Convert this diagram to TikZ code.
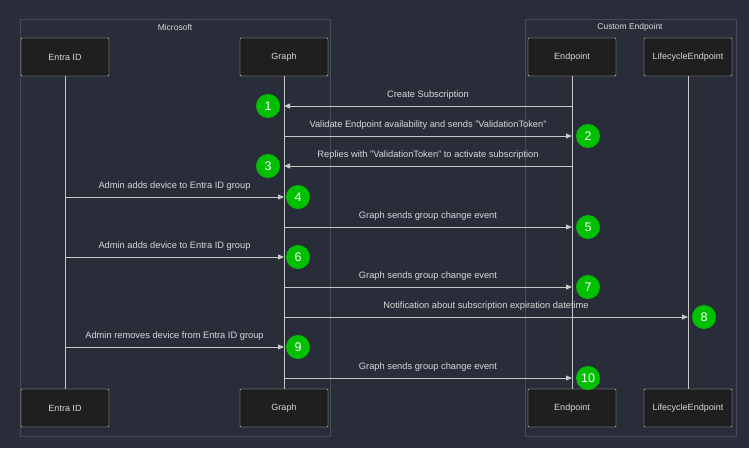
\documentclass[tikz,border=0pt]{standalone}
\usepackage{fontspec}
\setmainfont{Liberation Sans}
\usetikzlibrary{arrows.meta}
\definecolor{bgc}{HTML}{292D3A}
\definecolor{boxc}{HTML}{1F1F1F}
\definecolor{linec}{HTML}{C8C8C8}
\definecolor{txtc}{HTML}{D8D8D8}
\definecolor{grpc}{HTML}{454A55}
\definecolor{badgec}{HTML}{00C000}
\tikzset{
  actor/.style={draw=linec!70, fill=boxc, rounded corners=1pt, minimum width=88pt, minimum height=38pt, text=txtc, font=\fontsize{9}{11}\selectfont},
  group/.style={draw=grpc, line width=0.6pt},
  grplabel/.style={text=txtc, font=\fontsize{8.5}{10}\selectfont},
  life/.style={linec, line width=1pt},
  msg/.style={linec, line width=1pt, -{Triangle[length=6pt,width=5pt]}},
  msglabel/.style={text=txtc, font=\fontsize{9.3}{11}\selectfont},
  badge/.style={circle, fill=badgec, minimum size=24pt, inner sep=0pt, text=white, font=\fontsize{12.5}{13}\selectfont}
}
\begin{document}
\begin{tikzpicture}[x=1pt, y=-1pt]
      \fill[bgc] (0,0) rectangle (749,448);
      \useasboundingbox (0,0) rectangle (749,448);
      % groups
      \draw[group] (20,19) rectangle (330,436);
      \draw[group] (525,19) rectangle (736,436);
      \node[grplabel] at (175,27) {Microsoft};
      \node[grplabel] at (630,27) {Custom Endpoint};
      % actors
      \node[actor] (entraT) at (65,57) {Entra ID};
      \node[actor] (graphT) at (284,57) {Graph};
      \node[actor] (epT) at (572,57) {Endpoint};
      \node[actor] (lcT) at (688,57) {LifecycleEndpoint};
      \node[actor] (entraB) at (65,408) {Entra ID};
      \node[actor] (graphB) at (284,408) {Graph};
      \node[actor] (epB) at (572,408) {Endpoint};
      \node[actor] (lcB) at (688,408) {LifecycleEndpoint};
      \foreach \a in {entra, graph, ep, lc}
        \draw[life] (\a T) -- (\a B);
      % message rows
      \foreach \i/\y in {1/106, 2/136, 3/166, 4/197, 5/227, 6/257, 7/287, 8/317, 9/347, 10/378}
        \coordinate (m\i) at (0,\y);
      \draw[msg] (epT |- m1) -- (graphT |- m1) node[msglabel, midway, above=3pt] {Create Subscription};
      \draw[msg] (graphT |- m2) -- (epT |- m2) node[msglabel, midway, above=3pt] {Validate Endpoint availability and sends "ValidationToken"};
      \draw[msg] (epT |- m3) -- (graphT |- m3) node[msglabel, midway, above=3pt] {Replies with "ValidationToken" to activate subscription};
      \draw[msg] (entraT |- m4) -- (graphT |- m4) node[msglabel, midway, above=3pt] {Admin adds device to Entra ID group};
      \draw[msg] (graphT |- m5) -- (epT |- m5) node[msglabel, midway, above=3pt] {Graph sends group change event};
      \draw[msg] (entraT |- m6) -- (graphT |- m6) node[msglabel, midway, above=3pt] {Admin adds device to Entra ID group};
      \draw[msg] (graphT |- m7) -- (epT |- m7) node[msglabel, midway, above=3pt] {Graph sends group change event};
      \draw[msg] (graphT |- m8) -- (lcT |- m8) node[msglabel, midway, above=3pt] {Notification about subscription expiration datetime};
      \draw[msg] (entraT |- m9) -- (graphT |- m9) node[msglabel, midway, above=3pt] {Admin removes device from Entra ID group};
      \draw[msg] (graphT |- m10) -- (epT |- m10) node[msglabel, midway, above=3pt] {Graph sends group change event};
      % step badges
      \node[badge] at ([xshift=-16pt] graphT |- m1) {1};
      \node[badge] at ([xshift=16pt] epT |- m2) {2};
      \node[badge] at ([xshift=-16pt] graphT |- m3) {3};
      \node[badge] at ([xshift=14pt] graphT |- m4) {4};
      \node[badge] at ([xshift=16pt] epT |- m5) {5};
      \node[badge] at ([xshift=14pt] graphT |- m6) {6};
      \node[badge] at ([xshift=16pt] epT |- m7) {7};
      \node[badge] at ([xshift=16pt] lcT |- m8) {8};
      \node[badge] at ([xshift=14pt] graphT |- m9) {9};
      \node[badge] at ([xshift=16pt] epT |- m10) {10};
\end{tikzpicture}
\end{document}
